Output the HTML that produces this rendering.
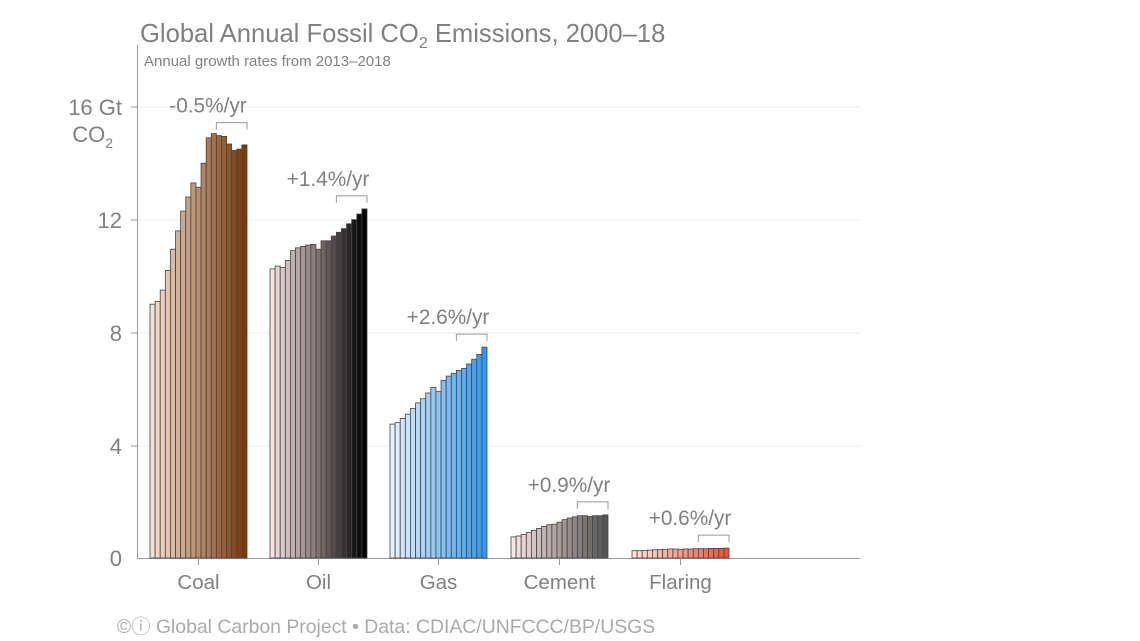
<!DOCTYPE html>
<html><head><style>body{margin:0;background:#fff}svg{display:block}text{font-family:"Liberation Sans",sans-serif;fill:#808080}</style></head>
<body>
<svg id="s" width="1140" height="641" xmlns="http://www.w3.org/2000/svg">
<text x="140" y="42" font-size="25.6">Global Annual Fossil CO<tspan font-size="16" dy="6">2</tspan><tspan dy="-6"> Emissions, 2000–18</tspan></text>
<text x="144" y="66" font-size="15">Annual growth rates from 2013–2018</text>
<g stroke="#eee" stroke-width="1">
<line x1="137" x2="860" y1="446" y2="446"/><line x1="137" x2="860" y1="333" y2="333"/><line x1="137" x2="860" y1="220" y2="220"/><line x1="137" x2="860" y1="107" y2="107"/></g>
<line x1="137.5" x2="137.5" y1="45" y2="558" stroke="#999"/>
<line x1="137" x2="860" y1="558.5" y2="558.5" stroke="#999"/>
<g stroke="#999"><line x1="131" x2="137" y1="446" y2="446"/><line x1="131" x2="137" y1="333" y2="333"/><line x1="131" x2="137" y1="220" y2="220"/><line x1="131" x2="137" y1="107" y2="107"/></g>
<g font-size="22" text-anchor="end"><text x="122" y="566">0</text><text x="122" y="454">4</text><text x="122" y="341">8</text><text x="122" y="228">12</text><text x="122" y="115">16 Gt</text><text x="113" y="142">CO<tspan font-size="14" dy="6">2</tspan></text></g>
<g id="bars"></g>
<text x="386" y="633" font-size="19.4" text-anchor="middle" style="fill:#aaa">©ⓘ Global Carbon Project  •  Data: CDIAC/UNFCCC/BP/USGS</text>
</svg>
<script>
var G=[
{n:"Coal",x:150,a:[247,224,208],b:[122,58,10],l:"-0.5%/yr",v:[9.0,9.1,9.5,10.2,10.95,11.6,12.3,12.8,13.3,13.15,14.0,14.9,15.05,14.98,14.95,14.68,14.45,14.5,14.65]},
{n:"Oil",x:270,a:[248,226,226],b:[0,0,0],l:"+1.4%/yr",v:[10.25,10.35,10.3,10.55,10.9,11.0,11.05,11.1,11.12,10.95,11.25,11.25,11.42,11.55,11.68,11.85,12.0,12.2,12.38]},
{n:"Gas",x:390,a:[230,242,252],b:[51,153,238],l:"+2.6%/yr",v:[4.75,4.8,4.95,5.1,5.3,5.5,5.65,5.85,6.05,5.9,6.3,6.45,6.55,6.65,6.72,6.88,7.05,7.22,7.48]},
{n:"Cement",x:511,a:[250,228,228],b:[85,85,85],l:"+0.9%/yr",v:[0.75,0.78,0.83,0.9,0.98,1.05,1.12,1.18,1.2,1.27,1.36,1.42,1.46,1.5,1.5,1.47,1.5,1.5,1.53]},
{n:"Flaring",x:632,a:[253,226,222],b:[232,85,58],l:"+0.6%/yr",v:[0.26,0.26,0.27,0.28,0.29,0.3,0.31,0.32,0.32,0.31,0.32,0.32,0.33,0.33,0.33,0.34,0.34,0.34,0.35]}];
var h="",w=97/19;
G.forEach(function(g){
 g.v.forEach(function(v,i){var t=i/18,c=[0,1,2].map(function(k){return Math.round(g.a[k]+(g.b[k]-g.a[k])*t)});
  var y=558-v*28.2;
  h+='<rect x="'+(g.x+i*w).toFixed(2)+'" y="'+y.toFixed(1)+'" width="'+w.toFixed(2)+'" height="'+(558-y).toFixed(1)+'" fill="rgb('+c+')" stroke="#444" stroke-width="0.8"/>';});
 var bx1=g.x+13*w,bx2=g.x+19*w,by=558-Math.max.apply(null,g.v.slice(13))*28.2-13;
 h+='<path d="M'+bx1+' '+(by+7)+'V'+by+'H'+bx2+'V'+(by+7)+'" fill="none" stroke="#999"/>';
 h+='<text x="'+(g.x+58)+'" y="'+(by-10)+'" font-size="20.8" text-anchor="middle">'+g.l+'</text>';
 h+='<line x1="'+(g.x+48.5)+'" x2="'+(g.x+48.5)+'" y1="558" y2="565" stroke="#999"/>';
 h+='<text x="'+(g.x+48.5)+'" y="589" font-size="20.5" text-anchor="middle">'+g.n+'</text>';
});
document.getElementById("bars").innerHTML=h;
</script>
</body></html>
